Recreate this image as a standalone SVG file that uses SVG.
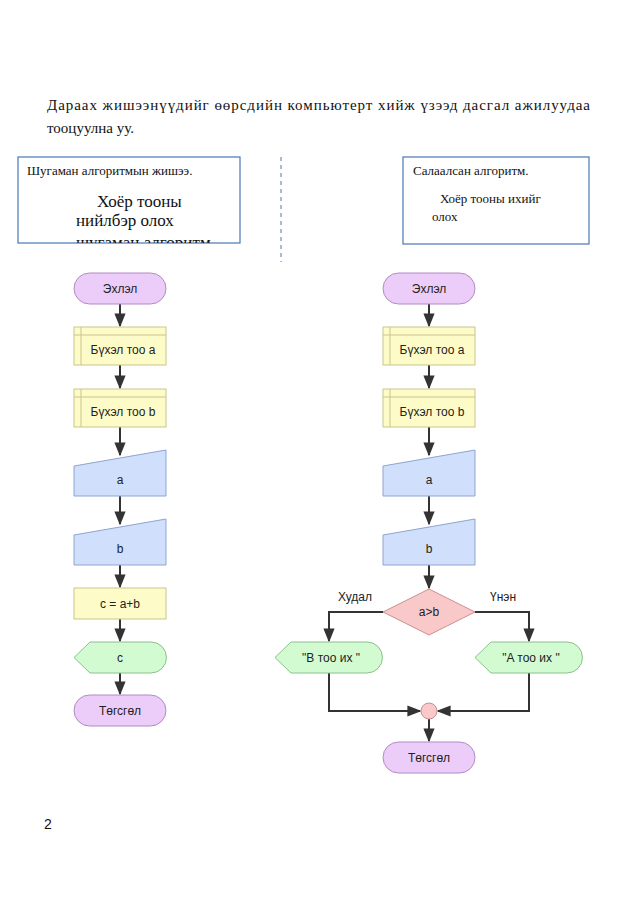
<svg xmlns="http://www.w3.org/2000/svg" width="638" height="907" viewBox="0 0 638 907">
<defs>
<marker id="ar" viewBox="0 0 10 10" refX="9" refY="5" markerWidth="7" markerHeight="7" orient="auto"><path d="M0,1 L10,5 L0,9 z" fill="#333"/></marker>
<clipPath id="cl"><rect x="18" y="157" width="222" height="86"/></clipPath>
</defs>
<style>
.t{font-family:"Liberation Serif",serif;fill:#111}
.s{font-family:"Liberation Sans",Arial,sans-serif;font-size:12px;fill:#222;text-anchor:middle}
.term{fill:#eccdf9;stroke:#b28ac3;stroke-width:1}
.proc{fill:#fdfcc8;stroke:#c9c68a;stroke-width:1}
.io{fill:#cfdffc;stroke:#8ea5cf;stroke-width:1}
.out{fill:#d2fbd2;stroke:#8cc08c;stroke-width:1}
.dec{fill:#f9c9c9;stroke:#c99090;stroke-width:1}
.c{fill:none;stroke:#333;stroke-width:2;marker-end:url(#ar)}
.box{fill:#fff;stroke:#4a76b8;stroke-width:1.2}
</style>
<rect width="638" height="907" fill="#fff"/>
<text class="t" x="47" y="110" font-size="15" textLength="543" lengthAdjust="spacing">Дараах жишээнүүдийг өөрсдийн компьютерт хийж үзээд дасгал ажилуудаа</text>
<text class="t" x="47" y="133" font-size="15">тооцуулна уу.</text>
<g id="box1"><rect class="box" x="18" y="157" width="222" height="86"/>
<text class="t" x="27" y="175" font-size="13">Шугаман алгоритмын жишээ.</text>
<g clip-path="url(#cl)">
<text class="t" x="97" y="207" font-size="17">Хоёр тооны</text>
<text class="t" x="76" y="226" font-size="17">нийлбэр олох</text>
<text class="t" x="76" y="248" font-size="17">шугаман алгоритм</text></g></g>
<line x1="281" y1="157" x2="281" y2="262" stroke="#4a76b8" stroke-dasharray="4,4"/>
<g id="box2"><rect class="box" x="403" y="157" width="186" height="87"/>
<text class="t" x="413" y="175" font-size="13">Салаалсан алгоритм.</text>
<text class="t" x="440" y="203" font-size="13">Хоёр тооны ихийг</text>
<text class="t" x="432" y="221" font-size="13">олох</text></g>
<g id="connectors">
<path class="c" d="M120,304 V326"/><path class="c" d="M120,365 V388"/><path class="c" d="M120,427 V455"/>
<path class="c" d="M120,496 V524"/><path class="c" d="M120,565 V587"/><path class="c" d="M120,619 V641"/><path class="c" d="M120,673 V694"/>
<path class="c" d="M429,304 V326"/><path class="c" d="M429,365 V388"/><path class="c" d="M429,427 V455"/>
<path class="c" d="M429,496 V524"/><path class="c" d="M429,565 V588"/>
<path class="c" d="M383,612 H329 V641"/><path class="c" d="M475,612 H529 V641"/>
<path class="c" d="M329,673 V711 H420"/><path class="c" d="M529,673 V711 H438"/>
<path class="c" d="M429,719 V741"/>
</g>
<g id="n1"><rect class="term" x="74" y="273" width="92" height="31" rx="15.5"/><text class="s" x="120" y="293">Эхлэл</text></g>
<g id="n2"><rect class="proc" x="74" y="327" width="92" height="38"/><path d="M74,335 H166 M81,327 V365" stroke="#c9c68a" fill="none"/><text class="s" x="123" y="354">Бүхэл тоо a</text></g>
<g id="n3"><rect class="proc" x="74" y="389" width="92" height="38"/><path d="M74,397 H166 M81,389 V427" stroke="#c9c68a" fill="none"/><text class="s" x="123" y="416">Бүхэл тоо b</text></g>
<g id="n4"><path class="io" d="M74,466 L166,450 V496 H74 z"/><text class="s" x="120" y="484">a</text></g>
<g id="n5"><path class="io" d="M74,535 L166,519 V565 H74 z"/><text class="s" x="120" y="553">b</text></g>
<g id="n6"><rect class="proc" x="74" y="588" width="92" height="31"/><text class="s" x="120" y="608">c = a+b</text></g>
<g id="n7"><path class="out" d="M90,642 H151 A15.5,15.5 0 0 1 151,673 H90 L74,657.5 z"/><text class="s" x="120" y="662">c</text></g>
<g id="n8"><rect class="term" x="74" y="695" width="92" height="31" rx="15.5"/><text class="s" x="120" y="715">Төгсгөл</text></g>
<g id="m1"><rect class="term" x="383" y="273" width="92" height="31" rx="15.5"/><text class="s" x="429" y="293">Эхлэл</text></g>
<g id="m2"><rect class="proc" x="383" y="327" width="92" height="38"/><path d="M383,335 H475 M390,327 V365" stroke="#c9c68a" fill="none"/><text class="s" x="432" y="354">Бүхэл тоо a</text></g>
<g id="m3"><rect class="proc" x="383" y="389" width="92" height="38"/><path d="M383,397 H475 M390,389 V427" stroke="#c9c68a" fill="none"/><text class="s" x="432" y="416">Бүхэл тоо b</text></g>
<g id="m4"><path class="io" d="M383,466 L475,450 V496 H383 z"/><text class="s" x="429" y="484">a</text></g>
<g id="m5"><path class="io" d="M383,535 L475,519 V565 H383 z"/><text class="s" x="429" y="553">b</text></g>
<g id="m6"><path class="dec" d="M429,589 L475,612 L429,635 L383,612 z"/><text class="s" x="429" y="616">a&gt;b</text></g>
<text class="s" x="355" y="601">Худал</text><text class="s" x="503" y="601">Үнэн</text>
<g id="m7"><path class="out" d="M291,642 H367 A15.5,15.5 0 0 1 367,673 H291 L275,657.5 z"/><text class="s" x="331" y="662">"B тоо их "</text></g>
<g id="m8"><path class="out" d="M491,642 H567 A15.5,15.5 0 0 1 567,673 H491 L475,657.5 z"/><text class="s" x="531" y="662">"A тоо их "</text></g>
<g id="m9"><circle cx="429" cy="711" r="8" class="dec"/></g>
<g id="m10"><rect class="term" x="383" y="742" width="92" height="31" rx="15.5"/><text class="s" x="429" y="762">Төгсгөл</text></g>
<text x="44" y="829" font-family="Liberation Sans,sans-serif" font-size="14" fill="#111">2</text>
</svg>
